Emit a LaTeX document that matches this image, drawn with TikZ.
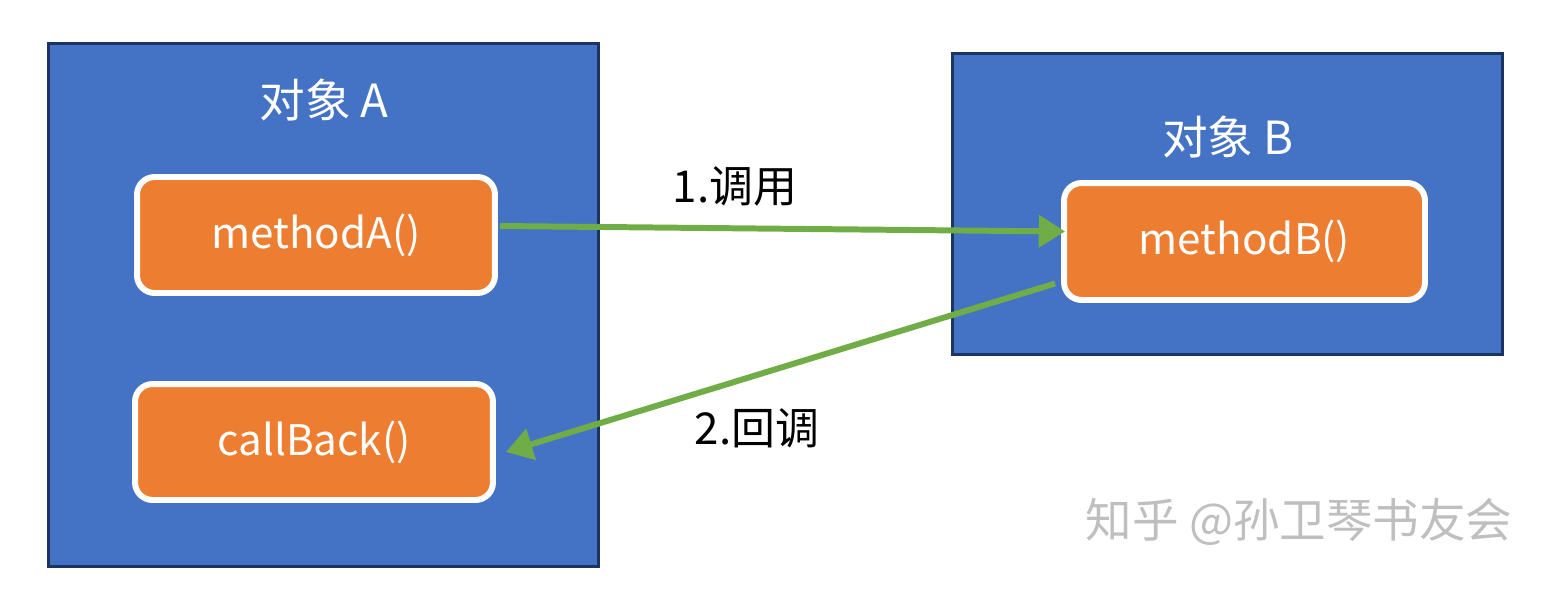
\documentclass[tikz,border=0pt]{standalone}
\usepackage{fontspec}
\setmainfont{Noto Sans CJK SC}
\usepackage{tikz}
\usetikzlibrary{arrows.meta,positioning,calc}

\definecolor{objblue}{HTML}{4472C4}
\definecolor{objedge}{HTML}{1C3461}
\definecolor{methorange}{HTML}{ED7D31}
\definecolor{callgreen}{HTML}{70AD47}

\begin{document}
\begin{tikzpicture}[x=0.02cm,y=-0.02cm,
    objbox/.style={draw=objedge,fill=objblue,line width=1.7pt,inner sep=0},
    methbox/.style={draw=white,fill=methorange,line width=3.4pt,rounded corners=10pt,
        minimum width=7.16cm,minimum height=2.32cm,text=white,
        font=\fontsize{24}{28}\selectfont},
    title/.style={text=white,inner sep=0,font=\fontsize{26}{30}\selectfont},
    steplabel/.style={text=black,inner sep=0,font=\fontsize{25}{29}\selectfont},
    callarrow/.style={draw=callgreen,line width=3.4pt,-{Triangle[length=15pt,width=18pt]}}]
    \useasboundingbox (0,0) rectangle (1550,588);

    % Object A
    \node[objbox,minimum width=11cm,minimum height=10.46cm] (objA) at (323.5,305) {};
    \node[title] (titleA) at (324,100) {对象 A};
    \node[methbox] (methA) at (316,235) {methodA()};
    \node[methbox] (callB) at (314,442) {callBack()};

    % Object B
    \node[objbox,minimum width=11cm,minimum height=6.02cm] (objB) at (1227.5,204) {};
    \node[title] (titleB) at (1228,137) {对象 B};
    \node[methbox,minimum width=7.22cm,minimum height=2.34cm] (methB) at (1244.5,241.5) {methodB()};

    % Arrows
    \draw[callarrow] ($(methA.east)+(2,-9)$) -- ($(methB.west)+(4,-10)$);
    \node[steplabel] (callLbl) at (735,186) {1.调用};
    \draw[callarrow] ($(methB.west)+(-6,42)$) -- ($(callB.east)+(10,10)$);
    \node[steplabel] (backLbl) at (757,428) {2.回调};

    % Watermark
    \node[text=gray!50,inner sep=0,font=\fontsize{26.5}{30}\selectfont] (mark) at (1299,522) {知乎 @孙卫琴书友会};
\end{tikzpicture}
\end{document}
